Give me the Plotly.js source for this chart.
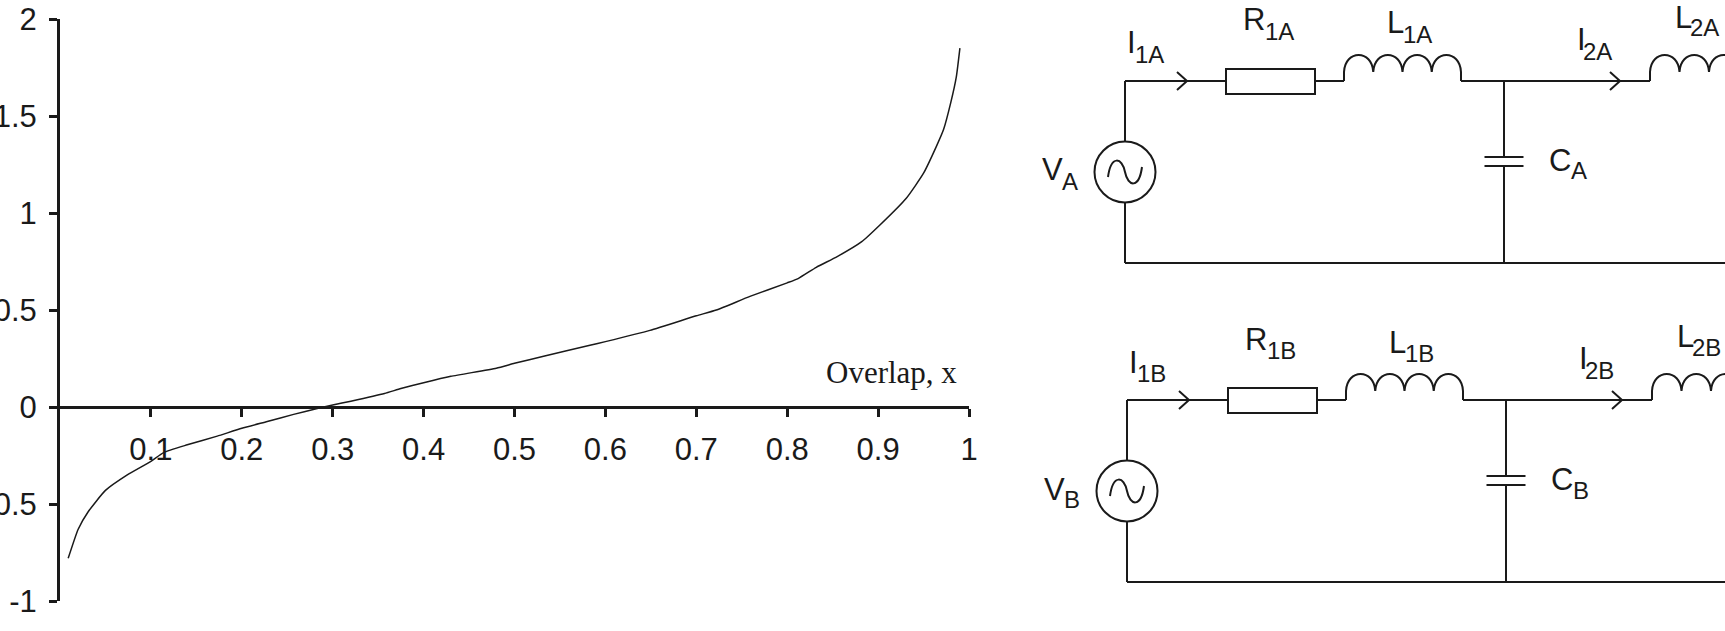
<!DOCTYPE html>
<html>
<head>
<meta charset="utf-8">
<script src="https://cdn.plot.ly/plotly-3.0.1.min.js"></script>
<style>html,body{margin:0;padding:0;background:#fff;overflow:hidden}#chart{width:1725px;height:631px}</style>
</head>
<body>
<div id="chart"></div>
<script>
// ---- chart data ----
const xValues = [0.009,0.02,0.031,0.05,0.074,0.1,0.114,0.14,0.173,0.2,0.228,0.257,0.283,0.3,0.32,0.357,0.375,0.4,0.43,0.48,0.5,0.532,0.583,0.6,0.649,0.7,0.722,0.759,0.8,0.812,0.832,0.855,0.882,0.902,0.931,0.95,0.964,0.972,0.98,0.986,0.99];
const yValues = [-0.78,-0.63,-0.54,-0.43,-0.35,-0.28,-0.235,-0.195,-0.15,-0.11,-0.075,-0.038,-0.008,0.01,0.03,0.07,0.095,0.125,0.158,0.2,0.225,0.262,0.318,0.337,0.395,0.47,0.5,0.57,0.64,0.662,0.72,0.775,0.852,0.938,1.076,1.205,1.342,1.43,1.57,1.70,1.85];
const xTickVals = [0.1,0.2,0.3,0.4,0.5,0.6,0.7,0.8,0.9,1];
const xTickLabels = ['0.1','0.2','0.3','0.4','0.5','0.6','0.7','0.8','0.9','1'];
const yTickVals = [-1,-0.5,0,0.5,1,1.5,2];
const yTickLabels = ['-1','-0.5','0','0.5','1','1.5','2'];
const xAxisLabel = 'Overlap, x';
// circuit labels: main letter and subscript, for circuits A and B
const labelMains = ['I','R','L','I','L','V','C'];
const labelSubsA = ['1A','1A','1A','2A','2A','A','A'];
const labelSubsB = ['1B','1B','1B','2B','2B','B','B'];

// ---- geometry helpers (pixel -> paper) ----
const ML = 60, MT = 19, PW = 1665, PH = 582;
const X = px => (px - ML) / PW;
const Y = py => (MT + PH - py) / PH;
const LW = 2, INK = '#1a1a1a';
const shapes = [];
const annotations = [];
function line(x0,y0,x1,y1,w){shapes.push({type:'line',xref:'paper',yref:'paper',x0:X(x0),y0:Y(y0),x1:X(x1),y1:Y(y1),line:{color:INK,width:w||LW}});}
function pathPx(cmds){
  let s='';
  cmds.forEach(c=>{s+=c[0]+' ';for(let i=1;i<c.length;i+=2){s+=X(c[i]).toFixed(6)+','+Y(c[i+1]).toFixed(6)+' ';}});
  shapes.push({type:'path',xref:'paper',yref:'paper',path:s.trim(),line:{color:INK,width:LW}});
}
function rect(x0,y0,x1,y1){shapes.push({type:'rect',xref:'paper',yref:'paper',x0:X(x0),y0:Y(y0),x1:X(x1),y1:Y(y1),line:{color:INK,width:LW},fillcolor:'rgba(0,0,0,0)'});}
function circle(cx,cy,r){shapes.push({type:'circle',xref:'paper',yref:'paper',x0:X(cx-r),y0:Y(cy-r),x1:X(cx+r),y1:Y(cy+r),line:{color:INK,width:LW},fillcolor:'rgba(0,0,0,0)'});}
function inductor(x0,w,n,yw){
  const yb = yw-9, h = 17, cy = yb - h*4/3;
  const cmds=[['M',x0,yw],['L',x0,yb]];
  for(let i=0;i<n;i++){const xi=x0+i*w;cmds.push(['C',xi+1,cy,xi+w-1,cy,xi+w,yb]);}
  cmds.push(['L',x0+n*w,yw]);
  pathPx(cmds);
}
function arrow(xt,yw){pathPx([['M',xt-10,yw-9],['L',xt,yw],['L',xt-10,yw+9]]);}
function text(t,x,y,size){annotations.push({xref:'paper',yref:'paper',x:X(x),y:Y(y),xanchor:'left',yanchor:'middle',showarrow:false,borderpad:0,text:t,font:{family:'Liberation Sans, Arial, sans-serif',size:size,color:INK}});}

function circuit(dx,dy,subs){
  const yt=81+dy, yb=263+dy, xl=1125+dx, xc=1504+dx;
  line(xl,yt,xl,142+dy); circle(xl,172+dy,30.5); line(xl,203+dy,xl,yb);
  pathPx([['M',xl-17,177+dy],['C',xl-14,155+dy,xl-3,157+dy,xl,172+dy],['C',xl+3,187+dy,xl+14,189+dy,xl+17,167+dy]]);
  line(xl,yt,1226+dx,yt); arrow(1187+dx,yt);
  rect(1226+dx,69+dy,1315+dx,94+dy);
  line(1315+dx,yt,1344+dx,yt);
  inductor(1344+dx,29.25,4,yt);
  line(1461+dx,yt,1650+dx,yt); arrow(1620+dx,yt);
  inductor(1650+dx,29.5,4,yt);
  line(1768+dx,yt,1800,yt);
  line(xc,yt,xc,157+dy); line(xc-19.5,157+dy,xc+19.5,157+dy);
  line(xc-19.5,166+dy,xc+19.5,166+dy); line(xc,166+dy,xc,yb);
  line(xl,yb,1800,yb);
  const mx=[1127,1243,1387,1577,1675,1042,1549];
  const my=[43,20,23,40,17,170,160];
  const sx=[1135,1265,1403,1583,1690,1062,1571];
  for(let i=0;i<labelMains.length;i++){
    text(labelMains[i],mx[i]+dx-1,my[i]+dy,31);
    text(subs[i],sx[i]+dx-1,my[i]+11+dy,24);
  }
}
circuit(0,0,labelSubsA);
circuit(2,319,labelSubsB);

annotations.push({xref:'paper',yref:'paper',x:X(958),y:Y(372),xanchor:'right',yanchor:'middle',showarrow:false,borderpad:0,text:xAxisLabel,font:{family:'Liberation Serif, Times New Roman, serif',size:31,color:INK}});

const trace = {x:xValues,y:yValues,type:'scatter',mode:'lines',line:{color:INK,width:1.5,shape:'spline',smoothing:0.5},hoverinfo:'skip',showlegend:false};
const axisCommon = {showgrid:false,zeroline:false,showline:true,linecolor:INK,linewidth:3,ticks:'outside',ticklen:8,tickwidth:3,tickcolor:INK,tickfont:{family:'Liberation Sans, Arial, sans-serif',size:31,color:INK},fixedrange:true};
const layout = {
  width:1725,height:631,
  margin:{l:ML,r:0,t:MT,b:631-MT-PH,pad:0},
  paper_bgcolor:'#ffffff',plot_bgcolor:'rgba(0,0,0,0)',
  showlegend:false,
  font:{family:'Liberation Sans, Arial, sans-serif',color:INK},
  xaxis:Object.assign({},axisCommon,{domain:[0,909/PW],range:[0,1],anchor:'free',position:1/3,tickmode:'array',tickvals:xTickVals,ticktext:xTickLabels,ticklabelstandoff:6}),
  yaxis:Object.assign({},axisCommon,{domain:[0,1],range:[-1,2],tickmode:'array',tickvals:yTickVals,ticktext:yTickLabels,ticklabelstandoff:6}),
  shapes:shapes,
  annotations:annotations
};
Plotly.newPlot('chart',[trace],layout,{staticPlot:true,displayModeBar:false});
</script>
</body>
</html>
